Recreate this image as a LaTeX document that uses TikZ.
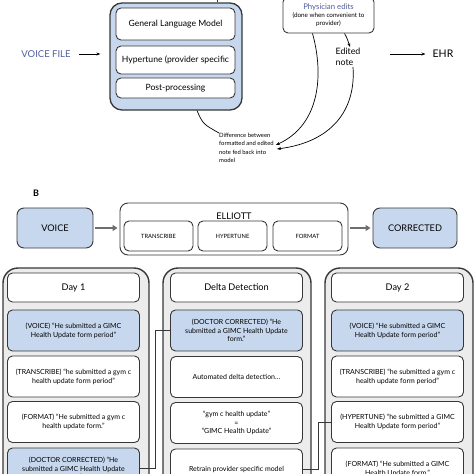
\documentclass[tikz,border=0pt]{standalone}
\usepackage{fontspec}
\setmainfont{Lato}
\usepackage{tikz}
\usetikzlibrary{arrows.meta,calc}
\definecolor{BoxBlue}{RGB}{199,216,238}
\definecolor{PanelGray}{RGB}{236,236,236}
\definecolor{EdgeGray}{RGB}{55,55,55}
\definecolor{TextBlue}{RGB}{80,95,155}
\definecolor{ArrowGray}{RGB}{110,110,110}

\begin{document}
\begin{tikzpicture}[x=1pt,y=-1pt,
    box/.style={draw=EdgeGray, line width=0.9pt, rounded corners=5pt, fill=white, align=center, inner sep=1pt},
    bluebox/.style={box, fill=BoxBlue},
    cell/.style={box, minimum width=132pt, minimum height=41pt, font=\fontsize{7}{8.8}\selectfont},
    bluecell/.style={cell, fill=BoxBlue},
    head/.style={box, minimum width=132pt, minimum height=29pt, font=\fontsize{9.2}{11}\selectfont},
    panel/.style={draw=EdgeGray, line width=1.4pt, rounded corners=15pt, fill=PanelGray},
    fatarrow/.style={draw=ArrowGray, line width=2.2pt, -{Triangle[length=5pt,width=6pt]}, shorten <=2pt, shorten >=2pt},
    thin/.style={draw=black, line width=0.7pt, -{Stealth[length=4pt,width=3pt]}},
    link/.style={draw=EdgeGray, line width=0.9pt}]
    \useasboundingbox (0,0) rectangle (474,474);
    \clip (0,0) rectangle (474,474);

    %%A: speech model
    \node[box, fill=BoxBlue, line width=1.3pt, rounded corners=12pt, minimum width=132pt, minimum height=107pt] (model) at (176,56.5) {};
    \node[box, minimum width=119pt, minimum height=32pt, font=\fontsize{8.6}{10}\selectfont] (glm) at (175.5,24) {General Language Model};
    \node[box, minimum width=119pt, minimum height=28pt, font=\fontsize{8.6}{10}\selectfont] (hyper) at (175.5,60) {Hypertune (provider specific};
    \node[box, minimum width=119pt, minimum height=20pt, font=\fontsize{8.6}{10}\selectfont] (post) at (175.5,88) {Post-processing};
    \coordinate (feed) at (217,-6);
    \draw[link] (feed) -- (feed |- model.north);

    \node[text=TextBlue, font=\fontsize{9.5}{11}\selectfont, inner sep=1pt] (voicefile) at (46,54) {VOICE FILE};
    \draw[thin, shorten <=7pt, shorten >=9pt] (voicefile.east) -- (voicefile.east -| model.west);

    \node[box, minimum width=91pt, minimum height=36pt, font=\fontsize{6.3}{7.8}\selectfont] (phys) at (328.5,15) {{\color{TextBlue}\fontsize{7.8}{9}\selectfont Physician edits}\\(done when convenient to\\provider)};
    \node[align=left, font=\fontsize{8.8}{11}\selectfont, inner sep=1pt] (edited) at (348,57) {Edited\\note};
    \node[font=\fontsize{10.5}{12}\selectfont, inner sep=1pt] (ehr) at (443,54) {EHR};
    \draw[thin, shorten <=28pt, shorten >=6pt] (edited.east |- ehr) -- (ehr.west);

    \node[anchor=north west, align=left, font=\fontsize{5.9}{8.4}\selectfont, inner sep=0pt] (diff) at (219,133) {Difference between\\formatted and edited\\note fed back into\\model};
    \draw[draw=black, line width=0.7pt] ([xshift=21pt]model.south) .. controls (203,124) .. (diff.north west);
    \draw[thin] ([xshift=-16pt]phys.south) .. controls (324,75) and (320,125) .. ($(diff.east)+(2,-3)$);
    \draw[thin] ([xshift=5pt]edited.south) .. controls (356,110) and (332,142) .. ($(diff.east)+(3,1)$);
    \draw[thin] ([xshift=16pt]phys.south) .. controls (347,38) .. ([xshift=2pt]edited.north);

    %%B: pipeline
    \node[font=\bfseries\fontsize{9}{11}\selectfont] (labelB) at (36,193) {B};
    \node[bluebox, minimum width=76pt, minimum height=40pt, rounded corners=7pt, font=\fontsize{9.2}{11}\selectfont] (voice) at (55,228) {VOICE};
    \node[box, minimum width=228pt, minimum height=52pt, rounded corners=8pt] (elliott) at (234,229) {};
    \node[font=\fontsize{9.2}{11}\selectfont] (elltitle) at (234,216) {ELLIOTT};
    \foreach \name/\x/\txt in {tr/158.5/TRANSCRIBE, ht/232.5/HYPERTUNE, fm/307.5/FORMAT}
    {
    \node[box, minimum width=69pt, minimum height=30pt, font=\fontsize{5.8}{7}\selectfont] (\name) at (\x,236) {\txt};
    }
    \node[bluebox, minimum width=84pt, minimum height=40pt, rounded corners=7pt, font=\fontsize{9.2}{11}\selectfont] (corrected) at (415,228) {CORRECTED};
    \draw[fatarrow] (voice.east) -- (voice.east -| elliott.west);
    \draw[fatarrow] (corrected.west -| elliott.east) -- (corrected.west);

    %%Panels
    \draw[panel] (3,268) rectangle (149,530);
    \draw[panel] (163,268) rectangle (311,530);
    \draw[panel] (325,268) rectangle (473,530);

    %%Day 1
    \node[head] (d1head) at (73.5,287.5) {Day 1};
    \node[bluecell] (d1voice) at (73.5,330.5) {(VOICE) “He submitted a GIMC\\Health Update form period”};
    \node[cell] (d1tr) at (73.5,376.5) {(TRANSCRIBE) “he submitted a gym c\\health update form period”};
    \node[cell] (d1fm) at (73.5,422) {(FORMAT) “He submitted a gym c\\health update form.”};
    \node[bluecell] (d1dc) at (73.5,468.5) {(DOCTOR CORRECTED) “He\\submitted a GIMC Health Update\\form.”};

    %%Delta Detection
    \node[head] (dthead) at (236.5,287.5) {Delta Detection};
    \node[bluecell] (dtdc) at (236.5,330.5) {(DOCTOR CORRECTED) “He\\submitted a GIMC Health Update\\form.”};
    \node[cell] (dtauto) at (236.5,377) {Automated delta detection…};
    \node[cell] (dteq) at (236.5,423) {“gym c health update”\\=\\“GIMC Health Update”};
    \node[cell] (dtre) at (236.5,469.5) {Retrain provider specific model};

    %%Day 2
    \node[head] (d2head) at (397.5,287.5) {Day 2};
    \node[bluecell] (d2voice) at (397.5,330.5) {(VOICE) “He submitted a GIMC\\Health Update form period”};
    \node[cell] (d2tr) at (397.5,376.5) {(TRANSCRIBE) “he submitted a gym c\\health update form period”};
    \node[cell] (d2ht) at (397.5,422) {(HYPERTUNE) “he submitted a GIMC\\Health Update form period”};
    \node[cell] (d2fm) at (397.5,468.5) {(FORMAT) “He submitted a GIMC\\Health Update form.”};

    \draw[link] (d1dc.east) -- ++(15,0) |- (dtdc.west);
    \draw[link] (dtre.east) -- ++(15,0) |- (d2ht.west);
\end{tikzpicture}
\end{document}
